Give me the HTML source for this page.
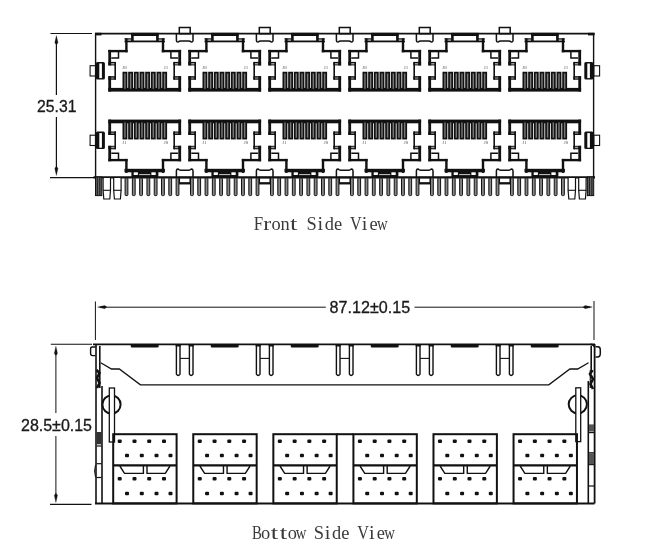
<!DOCTYPE html>
<html><head><meta charset="utf-8"><style>
html,body{margin:0;padding:0;background:#fff;width:650px;height:556px;overflow:hidden}
svg{display:block;will-change:transform}
</style></head><body>
<svg width="650" height="556" viewBox="0 0 650 556"><line x1="50.50" y1="33.50" x2="92.00" y2="33.50" stroke="#111" stroke-width="1.1" />
<line x1="50.00" y1="177.60" x2="95.00" y2="177.60" stroke="#111" stroke-width="1.1" />
<line x1="56.40" y1="40.00" x2="56.40" y2="95.00" stroke="#111" stroke-width="1.2" />
<line x1="56.40" y1="117.00" x2="56.40" y2="172.00" stroke="#111" stroke-width="1.2" />
<path d="M56.40,35.60 L58.00,42.80 L56.40,44.80 L54.80,42.80 Z" fill="#111" stroke="#111" stroke-width="0.3"/>
<path d="M56.40,175.50 L54.80,168.30 L56.40,166.30 L58.00,168.30 Z" fill="#111" stroke="#111" stroke-width="0.3"/>
<text x="37.0" y="111.6" font-family="Liberation Sans" font-size="15.6" fill="#1a1a1a" stroke="#1a1a1a" stroke-width="0.3" textLength="39.4" lengthAdjust="spacingAndGlyphs">25.31</text>
<g><rect x="108.30" y="87.9" width="72.8" height="3.7" fill="#111"/><rect x="108.30" y="76.20" width="2.80" height="15.40" fill="#111"/><rect x="178.30" y="76.20" width="2.80" height="15.40" fill="#111"/><rect x="108.30" y="76.20" width="7.70" height="3.50" fill="#111"/><rect x="173.40" y="76.20" width="7.70" height="3.50" fill="#111"/><rect x="111.10" y="77.50" width="3.30" height="1.10" fill="#9a9a9a"/><rect x="175.00" y="77.50" width="3.30" height="1.10" fill="#9a9a9a"/><rect x="114.40" y="62.00" width="1.60" height="17.70" fill="#111"/><rect x="173.40" y="62.00" width="1.60" height="17.70" fill="#111"/><rect x="108.30" y="61.90" width="7.70" height="3.50" fill="#111"/><rect x="173.40" y="61.90" width="7.70" height="3.50" fill="#111"/><rect x="111.10" y="63.00" width="3.30" height="1.50" fill="#9a9a9a"/><rect x="175.00" y="63.00" width="3.30" height="1.50" fill="#9a9a9a"/><rect x="108.30" y="49.90" width="2.80" height="15.50" fill="#111"/><rect x="178.30" y="49.90" width="2.80" height="15.50" fill="#111"/><rect x="108.30" y="49.90" width="19.30" height="2.40" fill="#111"/><rect x="161.80" y="49.90" width="19.30" height="2.40" fill="#111"/><rect x="125.20" y="38.30" width="2.40" height="14.00" fill="#111"/><rect x="161.80" y="38.30" width="2.40" height="14.00" fill="#111"/><path d="M111.30,57.9 H118.50 V52" stroke="#111" stroke-width="1.5" fill="none"/><path d="M178.10,57.9 H170.90 V52" stroke="#111" stroke-width="1.5" fill="none"/><rect x="131.10" y="32.8" width="27.6" height="3.2" fill="#111"/><path d="M132.40,34 V41 M157.40,34 V41" stroke="#111" stroke-width="2.6"/><rect x="124.50" y="40.5" width="40.4" height="1.8" fill="#111"/><rect x="124.50" y="38.3" width="7" height="1.3" fill="#111"/><rect x="157.90" y="38.3" width="7" height="1.3" fill="#111"/><rect x="123.35" y="72.6" width="3.17" height="17" fill="#777" stroke="#111" stroke-width="1.7"/><rect x="129.02" y="72.6" width="3.17" height="17" fill="#777" stroke="#111" stroke-width="1.7"/><rect x="134.70" y="72.6" width="3.17" height="17" fill="#777" stroke="#111" stroke-width="1.7"/><rect x="140.38" y="72.6" width="3.17" height="17" fill="#777" stroke="#111" stroke-width="1.7"/><rect x="146.05" y="72.6" width="3.17" height="17" fill="#777" stroke="#111" stroke-width="1.7"/><rect x="151.72" y="72.6" width="3.17" height="17" fill="#777" stroke="#111" stroke-width="1.7"/><rect x="157.40" y="72.6" width="3.17" height="17" fill="#777" stroke="#111" stroke-width="1.7"/><rect x="163.07" y="72.6" width="3.17" height="17" fill="#777" stroke="#111" stroke-width="1.7"/><rect x="188.30" y="87.9" width="72.8" height="3.7" fill="#111"/><rect x="188.30" y="76.20" width="2.80" height="15.40" fill="#111"/><rect x="258.30" y="76.20" width="2.80" height="15.40" fill="#111"/><rect x="188.30" y="76.20" width="7.70" height="3.50" fill="#111"/><rect x="253.40" y="76.20" width="7.70" height="3.50" fill="#111"/><rect x="191.10" y="77.50" width="3.30" height="1.10" fill="#9a9a9a"/><rect x="255.00" y="77.50" width="3.30" height="1.10" fill="#9a9a9a"/><rect x="194.40" y="62.00" width="1.60" height="17.70" fill="#111"/><rect x="253.40" y="62.00" width="1.60" height="17.70" fill="#111"/><rect x="188.30" y="61.90" width="7.70" height="3.50" fill="#111"/><rect x="253.40" y="61.90" width="7.70" height="3.50" fill="#111"/><rect x="191.10" y="63.00" width="3.30" height="1.50" fill="#9a9a9a"/><rect x="255.00" y="63.00" width="3.30" height="1.50" fill="#9a9a9a"/><rect x="188.30" y="49.90" width="2.80" height="15.50" fill="#111"/><rect x="258.30" y="49.90" width="2.80" height="15.50" fill="#111"/><rect x="188.30" y="49.90" width="19.30" height="2.40" fill="#111"/><rect x="241.80" y="49.90" width="19.30" height="2.40" fill="#111"/><rect x="205.20" y="38.30" width="2.40" height="14.00" fill="#111"/><rect x="241.80" y="38.30" width="2.40" height="14.00" fill="#111"/><path d="M191.30,57.9 H198.50 V52" stroke="#111" stroke-width="1.5" fill="none"/><path d="M258.10,57.9 H250.90 V52" stroke="#111" stroke-width="1.5" fill="none"/><rect x="211.10" y="32.8" width="27.6" height="3.2" fill="#111"/><path d="M212.40,34 V41 M237.40,34 V41" stroke="#111" stroke-width="2.6"/><rect x="204.50" y="40.5" width="40.4" height="1.8" fill="#111"/><rect x="204.50" y="38.3" width="7" height="1.3" fill="#111"/><rect x="237.90" y="38.3" width="7" height="1.3" fill="#111"/><rect x="203.35" y="72.6" width="3.17" height="17" fill="#777" stroke="#111" stroke-width="1.7"/><rect x="209.03" y="72.6" width="3.17" height="17" fill="#777" stroke="#111" stroke-width="1.7"/><rect x="214.70" y="72.6" width="3.17" height="17" fill="#777" stroke="#111" stroke-width="1.7"/><rect x="220.38" y="72.6" width="3.17" height="17" fill="#777" stroke="#111" stroke-width="1.7"/><rect x="226.05" y="72.6" width="3.17" height="17" fill="#777" stroke="#111" stroke-width="1.7"/><rect x="231.72" y="72.6" width="3.17" height="17" fill="#777" stroke="#111" stroke-width="1.7"/><rect x="237.40" y="72.6" width="3.17" height="17" fill="#777" stroke="#111" stroke-width="1.7"/><rect x="243.07" y="72.6" width="3.17" height="17" fill="#777" stroke="#111" stroke-width="1.7"/><rect x="268.30" y="87.9" width="72.8" height="3.7" fill="#111"/><rect x="268.30" y="76.20" width="2.80" height="15.40" fill="#111"/><rect x="338.30" y="76.20" width="2.80" height="15.40" fill="#111"/><rect x="268.30" y="76.20" width="7.70" height="3.50" fill="#111"/><rect x="333.40" y="76.20" width="7.70" height="3.50" fill="#111"/><rect x="271.10" y="77.50" width="3.30" height="1.10" fill="#9a9a9a"/><rect x="335.00" y="77.50" width="3.30" height="1.10" fill="#9a9a9a"/><rect x="274.40" y="62.00" width="1.60" height="17.70" fill="#111"/><rect x="333.40" y="62.00" width="1.60" height="17.70" fill="#111"/><rect x="268.30" y="61.90" width="7.70" height="3.50" fill="#111"/><rect x="333.40" y="61.90" width="7.70" height="3.50" fill="#111"/><rect x="271.10" y="63.00" width="3.30" height="1.50" fill="#9a9a9a"/><rect x="335.00" y="63.00" width="3.30" height="1.50" fill="#9a9a9a"/><rect x="268.30" y="49.90" width="2.80" height="15.50" fill="#111"/><rect x="338.30" y="49.90" width="2.80" height="15.50" fill="#111"/><rect x="268.30" y="49.90" width="19.30" height="2.40" fill="#111"/><rect x="321.80" y="49.90" width="19.30" height="2.40" fill="#111"/><rect x="285.20" y="38.30" width="2.40" height="14.00" fill="#111"/><rect x="321.80" y="38.30" width="2.40" height="14.00" fill="#111"/><path d="M271.30,57.9 H278.50 V52" stroke="#111" stroke-width="1.5" fill="none"/><path d="M338.10,57.9 H330.90 V52" stroke="#111" stroke-width="1.5" fill="none"/><rect x="291.10" y="32.8" width="27.6" height="3.2" fill="#111"/><path d="M292.40,34 V41 M317.40,34 V41" stroke="#111" stroke-width="2.6"/><rect x="284.50" y="40.5" width="40.4" height="1.8" fill="#111"/><rect x="284.50" y="38.3" width="7" height="1.3" fill="#111"/><rect x="317.90" y="38.3" width="7" height="1.3" fill="#111"/><rect x="283.35" y="72.6" width="3.17" height="17" fill="#777" stroke="#111" stroke-width="1.7"/><rect x="289.02" y="72.6" width="3.17" height="17" fill="#777" stroke="#111" stroke-width="1.7"/><rect x="294.70" y="72.6" width="3.17" height="17" fill="#777" stroke="#111" stroke-width="1.7"/><rect x="300.37" y="72.6" width="3.17" height="17" fill="#777" stroke="#111" stroke-width="1.7"/><rect x="306.05" y="72.6" width="3.17" height="17" fill="#777" stroke="#111" stroke-width="1.7"/><rect x="311.72" y="72.6" width="3.17" height="17" fill="#777" stroke="#111" stroke-width="1.7"/><rect x="317.40" y="72.6" width="3.17" height="17" fill="#777" stroke="#111" stroke-width="1.7"/><rect x="323.07" y="72.6" width="3.17" height="17" fill="#777" stroke="#111" stroke-width="1.7"/><rect x="348.30" y="87.9" width="72.8" height="3.7" fill="#111"/><rect x="348.30" y="76.20" width="2.80" height="15.40" fill="#111"/><rect x="418.30" y="76.20" width="2.80" height="15.40" fill="#111"/><rect x="348.30" y="76.20" width="7.70" height="3.50" fill="#111"/><rect x="413.40" y="76.20" width="7.70" height="3.50" fill="#111"/><rect x="351.10" y="77.50" width="3.30" height="1.10" fill="#9a9a9a"/><rect x="415.00" y="77.50" width="3.30" height="1.10" fill="#9a9a9a"/><rect x="354.40" y="62.00" width="1.60" height="17.70" fill="#111"/><rect x="413.40" y="62.00" width="1.60" height="17.70" fill="#111"/><rect x="348.30" y="61.90" width="7.70" height="3.50" fill="#111"/><rect x="413.40" y="61.90" width="7.70" height="3.50" fill="#111"/><rect x="351.10" y="63.00" width="3.30" height="1.50" fill="#9a9a9a"/><rect x="415.00" y="63.00" width="3.30" height="1.50" fill="#9a9a9a"/><rect x="348.30" y="49.90" width="2.80" height="15.50" fill="#111"/><rect x="418.30" y="49.90" width="2.80" height="15.50" fill="#111"/><rect x="348.30" y="49.90" width="19.30" height="2.40" fill="#111"/><rect x="401.80" y="49.90" width="19.30" height="2.40" fill="#111"/><rect x="365.20" y="38.30" width="2.40" height="14.00" fill="#111"/><rect x="401.80" y="38.30" width="2.40" height="14.00" fill="#111"/><path d="M351.30,57.9 H358.50 V52" stroke="#111" stroke-width="1.5" fill="none"/><path d="M418.10,57.9 H410.90 V52" stroke="#111" stroke-width="1.5" fill="none"/><rect x="371.10" y="32.8" width="27.6" height="3.2" fill="#111"/><path d="M372.40,34 V41 M397.40,34 V41" stroke="#111" stroke-width="2.6"/><rect x="364.50" y="40.5" width="40.4" height="1.8" fill="#111"/><rect x="364.50" y="38.3" width="7" height="1.3" fill="#111"/><rect x="397.90" y="38.3" width="7" height="1.3" fill="#111"/><rect x="363.35" y="72.6" width="3.17" height="17" fill="#777" stroke="#111" stroke-width="1.7"/><rect x="369.02" y="72.6" width="3.17" height="17" fill="#777" stroke="#111" stroke-width="1.7"/><rect x="374.70" y="72.6" width="3.17" height="17" fill="#777" stroke="#111" stroke-width="1.7"/><rect x="380.37" y="72.6" width="3.17" height="17" fill="#777" stroke="#111" stroke-width="1.7"/><rect x="386.05" y="72.6" width="3.17" height="17" fill="#777" stroke="#111" stroke-width="1.7"/><rect x="391.72" y="72.6" width="3.17" height="17" fill="#777" stroke="#111" stroke-width="1.7"/><rect x="397.40" y="72.6" width="3.17" height="17" fill="#777" stroke="#111" stroke-width="1.7"/><rect x="403.07" y="72.6" width="3.17" height="17" fill="#777" stroke="#111" stroke-width="1.7"/><rect x="428.30" y="87.9" width="72.8" height="3.7" fill="#111"/><rect x="428.30" y="76.20" width="2.80" height="15.40" fill="#111"/><rect x="498.30" y="76.20" width="2.80" height="15.40" fill="#111"/><rect x="428.30" y="76.20" width="7.70" height="3.50" fill="#111"/><rect x="493.40" y="76.20" width="7.70" height="3.50" fill="#111"/><rect x="431.10" y="77.50" width="3.30" height="1.10" fill="#9a9a9a"/><rect x="495.00" y="77.50" width="3.30" height="1.10" fill="#9a9a9a"/><rect x="434.40" y="62.00" width="1.60" height="17.70" fill="#111"/><rect x="493.40" y="62.00" width="1.60" height="17.70" fill="#111"/><rect x="428.30" y="61.90" width="7.70" height="3.50" fill="#111"/><rect x="493.40" y="61.90" width="7.70" height="3.50" fill="#111"/><rect x="431.10" y="63.00" width="3.30" height="1.50" fill="#9a9a9a"/><rect x="495.00" y="63.00" width="3.30" height="1.50" fill="#9a9a9a"/><rect x="428.30" y="49.90" width="2.80" height="15.50" fill="#111"/><rect x="498.30" y="49.90" width="2.80" height="15.50" fill="#111"/><rect x="428.30" y="49.90" width="19.30" height="2.40" fill="#111"/><rect x="481.80" y="49.90" width="19.30" height="2.40" fill="#111"/><rect x="445.20" y="38.30" width="2.40" height="14.00" fill="#111"/><rect x="481.80" y="38.30" width="2.40" height="14.00" fill="#111"/><path d="M431.30,57.9 H438.50 V52" stroke="#111" stroke-width="1.5" fill="none"/><path d="M498.10,57.9 H490.90 V52" stroke="#111" stroke-width="1.5" fill="none"/><rect x="451.10" y="32.8" width="27.6" height="3.2" fill="#111"/><path d="M452.40,34 V41 M477.40,34 V41" stroke="#111" stroke-width="2.6"/><rect x="444.50" y="40.5" width="40.4" height="1.8" fill="#111"/><rect x="444.50" y="38.3" width="7" height="1.3" fill="#111"/><rect x="477.90" y="38.3" width="7" height="1.3" fill="#111"/><rect x="443.35" y="72.6" width="3.17" height="17" fill="#777" stroke="#111" stroke-width="1.7"/><rect x="449.02" y="72.6" width="3.17" height="17" fill="#777" stroke="#111" stroke-width="1.7"/><rect x="454.70" y="72.6" width="3.17" height="17" fill="#777" stroke="#111" stroke-width="1.7"/><rect x="460.37" y="72.6" width="3.17" height="17" fill="#777" stroke="#111" stroke-width="1.7"/><rect x="466.05" y="72.6" width="3.17" height="17" fill="#777" stroke="#111" stroke-width="1.7"/><rect x="471.72" y="72.6" width="3.17" height="17" fill="#777" stroke="#111" stroke-width="1.7"/><rect x="477.40" y="72.6" width="3.17" height="17" fill="#777" stroke="#111" stroke-width="1.7"/><rect x="483.07" y="72.6" width="3.17" height="17" fill="#777" stroke="#111" stroke-width="1.7"/><rect x="508.30" y="87.9" width="72.8" height="3.7" fill="#111"/><rect x="508.30" y="76.20" width="2.80" height="15.40" fill="#111"/><rect x="578.30" y="76.20" width="2.80" height="15.40" fill="#111"/><rect x="508.30" y="76.20" width="7.70" height="3.50" fill="#111"/><rect x="573.40" y="76.20" width="7.70" height="3.50" fill="#111"/><rect x="511.10" y="77.50" width="3.30" height="1.10" fill="#9a9a9a"/><rect x="575.00" y="77.50" width="3.30" height="1.10" fill="#9a9a9a"/><rect x="514.40" y="62.00" width="1.60" height="17.70" fill="#111"/><rect x="573.40" y="62.00" width="1.60" height="17.70" fill="#111"/><rect x="508.30" y="61.90" width="7.70" height="3.50" fill="#111"/><rect x="573.40" y="61.90" width="7.70" height="3.50" fill="#111"/><rect x="511.10" y="63.00" width="3.30" height="1.50" fill="#9a9a9a"/><rect x="575.00" y="63.00" width="3.30" height="1.50" fill="#9a9a9a"/><rect x="508.30" y="49.90" width="2.80" height="15.50" fill="#111"/><rect x="578.30" y="49.90" width="2.80" height="15.50" fill="#111"/><rect x="508.30" y="49.90" width="19.30" height="2.40" fill="#111"/><rect x="561.80" y="49.90" width="19.30" height="2.40" fill="#111"/><rect x="525.20" y="38.30" width="2.40" height="14.00" fill="#111"/><rect x="561.80" y="38.30" width="2.40" height="14.00" fill="#111"/><path d="M511.30,57.9 H518.50 V52" stroke="#111" stroke-width="1.5" fill="none"/><path d="M578.10,57.9 H570.90 V52" stroke="#111" stroke-width="1.5" fill="none"/><rect x="531.10" y="32.8" width="27.6" height="3.2" fill="#111"/><path d="M532.40,34 V41 M557.40,34 V41" stroke="#111" stroke-width="2.6"/><rect x="524.50" y="40.5" width="40.4" height="1.8" fill="#111"/><rect x="524.50" y="38.3" width="7" height="1.3" fill="#111"/><rect x="557.90" y="38.3" width="7" height="1.3" fill="#111"/><rect x="523.35" y="72.6" width="3.17" height="17" fill="#777" stroke="#111" stroke-width="1.7"/><rect x="529.02" y="72.6" width="3.17" height="17" fill="#777" stroke="#111" stroke-width="1.7"/><rect x="534.70" y="72.6" width="3.17" height="17" fill="#777" stroke="#111" stroke-width="1.7"/><rect x="540.38" y="72.6" width="3.17" height="17" fill="#777" stroke="#111" stroke-width="1.7"/><rect x="546.05" y="72.6" width="3.17" height="17" fill="#777" stroke="#111" stroke-width="1.7"/><rect x="551.73" y="72.6" width="3.17" height="17" fill="#777" stroke="#111" stroke-width="1.7"/><rect x="557.40" y="72.6" width="3.17" height="17" fill="#777" stroke="#111" stroke-width="1.7"/><rect x="563.08" y="72.6" width="3.17" height="17" fill="#777" stroke="#111" stroke-width="1.7"/><rect x="179.30" y="27.5" width="10.9" height="6.2" fill="none" stroke="#111" stroke-width="1.5"/><path d="M176.40,34 V40.5 Q176.40,42.1 178.10,42.1 Q179.20,40.9 180.70,40.9 H188.70 Q190.20,40.9 191.30,42.1 Q193.00,42.1 193.00,40.5 V34" stroke="#111" stroke-width="1.5" fill="none"/><rect x="259.30" y="27.5" width="10.9" height="6.2" fill="none" stroke="#111" stroke-width="1.5"/><path d="M256.40,34 V40.5 Q256.40,42.1 258.10,42.1 Q259.20,40.9 260.70,40.9 H268.70 Q270.20,40.9 271.30,42.1 Q273.00,42.1 273.00,40.5 V34" stroke="#111" stroke-width="1.5" fill="none"/><rect x="339.30" y="27.5" width="10.9" height="6.2" fill="none" stroke="#111" stroke-width="1.5"/><path d="M336.40,34 V40.5 Q336.40,42.1 338.10,42.1 Q339.20,40.9 340.70,40.9 H348.70 Q350.20,40.9 351.30,42.1 Q353.00,42.1 353.00,40.5 V34" stroke="#111" stroke-width="1.5" fill="none"/><rect x="419.30" y="27.5" width="10.9" height="6.2" fill="none" stroke="#111" stroke-width="1.5"/><path d="M416.40,34 V40.5 Q416.40,42.1 418.10,42.1 Q419.20,40.9 420.70,40.9 H428.70 Q430.20,40.9 431.30,42.1 Q433.00,42.1 433.00,40.5 V34" stroke="#111" stroke-width="1.5" fill="none"/><rect x="499.30" y="27.5" width="10.9" height="6.2" fill="none" stroke="#111" stroke-width="1.5"/><path d="M496.40,34 V40.5 Q496.40,42.1 498.10,42.1 Q499.20,40.9 500.70,40.9 H508.70 Q510.20,40.9 511.30,42.1 Q513.00,42.1 513.00,40.5 V34" stroke="#111" stroke-width="1.5" fill="none"/><rect x="90.10" y="65.7" width="5.80" height="10.3" fill="none" stroke="#111" stroke-width="1.1"/><rect x="95.90" y="62.1" width="9" height="17.5" rx="1.5" fill="#111"/><rect x="99.30" y="63.5" width="2.6" height="14.6" fill="#fff"/><rect x="593.80" y="65.7" width="5.80" height="10.3" fill="none" stroke="#111" stroke-width="1.1"/><rect x="584.30" y="62.1" width="9" height="17.5" rx="1.5" fill="#111"/><rect x="587.30" y="63.5" width="2.6" height="14.6" fill="#fff"/></g>
<g transform="matrix(1,0,0,-1,0,211.2)"><rect x="108.30" y="87.9" width="72.8" height="3.7" fill="#111"/><rect x="108.30" y="76.20" width="2.80" height="15.40" fill="#111"/><rect x="178.30" y="76.20" width="2.80" height="15.40" fill="#111"/><rect x="108.30" y="76.20" width="7.70" height="3.50" fill="#111"/><rect x="173.40" y="76.20" width="7.70" height="3.50" fill="#111"/><rect x="111.10" y="77.50" width="3.30" height="1.10" fill="#9a9a9a"/><rect x="175.00" y="77.50" width="3.30" height="1.10" fill="#9a9a9a"/><rect x="114.40" y="62.00" width="1.60" height="17.70" fill="#111"/><rect x="173.40" y="62.00" width="1.60" height="17.70" fill="#111"/><rect x="108.30" y="61.90" width="7.70" height="3.50" fill="#111"/><rect x="173.40" y="61.90" width="7.70" height="3.50" fill="#111"/><rect x="111.10" y="63.00" width="3.30" height="1.50" fill="#9a9a9a"/><rect x="175.00" y="63.00" width="3.30" height="1.50" fill="#9a9a9a"/><rect x="108.30" y="49.90" width="2.80" height="15.50" fill="#111"/><rect x="178.30" y="49.90" width="2.80" height="15.50" fill="#111"/><rect x="108.30" y="49.90" width="19.30" height="2.40" fill="#111"/><rect x="161.80" y="49.90" width="19.30" height="2.40" fill="#111"/><rect x="125.20" y="38.30" width="2.40" height="14.00" fill="#111"/><rect x="161.80" y="38.30" width="2.40" height="14.00" fill="#111"/><path d="M111.30,57.9 H118.50 V52" stroke="#111" stroke-width="1.5" fill="none"/><path d="M178.10,57.9 H170.90 V52" stroke="#111" stroke-width="1.5" fill="none"/><rect x="131.40" y="33.9" width="27" height="8.2" fill="#111"/><rect x="133.70" y="36.2" width="4.2" height="4.6" fill="#fff"/><rect x="151.40" y="36.2" width="4.3" height="4.6" fill="#fff"/><path d="M139.20,36.6 H150.20" stroke="#fff" stroke-width="0.8"/><rect x="124.50" y="38.9" width="40.4" height="3.5" fill="#111"/><rect x="123.35" y="72.6" width="3.17" height="17" fill="#777" stroke="#111" stroke-width="1.7"/><rect x="129.02" y="72.6" width="3.17" height="17" fill="#777" stroke="#111" stroke-width="1.7"/><rect x="134.70" y="72.6" width="3.17" height="17" fill="#777" stroke="#111" stroke-width="1.7"/><rect x="140.38" y="72.6" width="3.17" height="17" fill="#777" stroke="#111" stroke-width="1.7"/><rect x="146.05" y="72.6" width="3.17" height="17" fill="#777" stroke="#111" stroke-width="1.7"/><rect x="151.72" y="72.6" width="3.17" height="17" fill="#777" stroke="#111" stroke-width="1.7"/><rect x="157.40" y="72.6" width="3.17" height="17" fill="#777" stroke="#111" stroke-width="1.7"/><rect x="163.07" y="72.6" width="3.17" height="17" fill="#777" stroke="#111" stroke-width="1.7"/><rect x="188.30" y="87.9" width="72.8" height="3.7" fill="#111"/><rect x="188.30" y="76.20" width="2.80" height="15.40" fill="#111"/><rect x="258.30" y="76.20" width="2.80" height="15.40" fill="#111"/><rect x="188.30" y="76.20" width="7.70" height="3.50" fill="#111"/><rect x="253.40" y="76.20" width="7.70" height="3.50" fill="#111"/><rect x="191.10" y="77.50" width="3.30" height="1.10" fill="#9a9a9a"/><rect x="255.00" y="77.50" width="3.30" height="1.10" fill="#9a9a9a"/><rect x="194.40" y="62.00" width="1.60" height="17.70" fill="#111"/><rect x="253.40" y="62.00" width="1.60" height="17.70" fill="#111"/><rect x="188.30" y="61.90" width="7.70" height="3.50" fill="#111"/><rect x="253.40" y="61.90" width="7.70" height="3.50" fill="#111"/><rect x="191.10" y="63.00" width="3.30" height="1.50" fill="#9a9a9a"/><rect x="255.00" y="63.00" width="3.30" height="1.50" fill="#9a9a9a"/><rect x="188.30" y="49.90" width="2.80" height="15.50" fill="#111"/><rect x="258.30" y="49.90" width="2.80" height="15.50" fill="#111"/><rect x="188.30" y="49.90" width="19.30" height="2.40" fill="#111"/><rect x="241.80" y="49.90" width="19.30" height="2.40" fill="#111"/><rect x="205.20" y="38.30" width="2.40" height="14.00" fill="#111"/><rect x="241.80" y="38.30" width="2.40" height="14.00" fill="#111"/><path d="M191.30,57.9 H198.50 V52" stroke="#111" stroke-width="1.5" fill="none"/><path d="M258.10,57.9 H250.90 V52" stroke="#111" stroke-width="1.5" fill="none"/><rect x="211.40" y="33.9" width="27" height="8.2" fill="#111"/><rect x="213.70" y="36.2" width="4.2" height="4.6" fill="#fff"/><rect x="231.40" y="36.2" width="4.3" height="4.6" fill="#fff"/><path d="M219.20,36.6 H230.20" stroke="#fff" stroke-width="0.8"/><rect x="204.50" y="38.9" width="40.4" height="3.5" fill="#111"/><rect x="203.35" y="72.6" width="3.17" height="17" fill="#777" stroke="#111" stroke-width="1.7"/><rect x="209.03" y="72.6" width="3.17" height="17" fill="#777" stroke="#111" stroke-width="1.7"/><rect x="214.70" y="72.6" width="3.17" height="17" fill="#777" stroke="#111" stroke-width="1.7"/><rect x="220.38" y="72.6" width="3.17" height="17" fill="#777" stroke="#111" stroke-width="1.7"/><rect x="226.05" y="72.6" width="3.17" height="17" fill="#777" stroke="#111" stroke-width="1.7"/><rect x="231.72" y="72.6" width="3.17" height="17" fill="#777" stroke="#111" stroke-width="1.7"/><rect x="237.40" y="72.6" width="3.17" height="17" fill="#777" stroke="#111" stroke-width="1.7"/><rect x="243.07" y="72.6" width="3.17" height="17" fill="#777" stroke="#111" stroke-width="1.7"/><rect x="268.30" y="87.9" width="72.8" height="3.7" fill="#111"/><rect x="268.30" y="76.20" width="2.80" height="15.40" fill="#111"/><rect x="338.30" y="76.20" width="2.80" height="15.40" fill="#111"/><rect x="268.30" y="76.20" width="7.70" height="3.50" fill="#111"/><rect x="333.40" y="76.20" width="7.70" height="3.50" fill="#111"/><rect x="271.10" y="77.50" width="3.30" height="1.10" fill="#9a9a9a"/><rect x="335.00" y="77.50" width="3.30" height="1.10" fill="#9a9a9a"/><rect x="274.40" y="62.00" width="1.60" height="17.70" fill="#111"/><rect x="333.40" y="62.00" width="1.60" height="17.70" fill="#111"/><rect x="268.30" y="61.90" width="7.70" height="3.50" fill="#111"/><rect x="333.40" y="61.90" width="7.70" height="3.50" fill="#111"/><rect x="271.10" y="63.00" width="3.30" height="1.50" fill="#9a9a9a"/><rect x="335.00" y="63.00" width="3.30" height="1.50" fill="#9a9a9a"/><rect x="268.30" y="49.90" width="2.80" height="15.50" fill="#111"/><rect x="338.30" y="49.90" width="2.80" height="15.50" fill="#111"/><rect x="268.30" y="49.90" width="19.30" height="2.40" fill="#111"/><rect x="321.80" y="49.90" width="19.30" height="2.40" fill="#111"/><rect x="285.20" y="38.30" width="2.40" height="14.00" fill="#111"/><rect x="321.80" y="38.30" width="2.40" height="14.00" fill="#111"/><path d="M271.30,57.9 H278.50 V52" stroke="#111" stroke-width="1.5" fill="none"/><path d="M338.10,57.9 H330.90 V52" stroke="#111" stroke-width="1.5" fill="none"/><rect x="291.40" y="33.9" width="27" height="8.2" fill="#111"/><rect x="293.70" y="36.2" width="4.2" height="4.6" fill="#fff"/><rect x="311.40" y="36.2" width="4.3" height="4.6" fill="#fff"/><path d="M299.20,36.6 H310.20" stroke="#fff" stroke-width="0.8"/><rect x="284.50" y="38.9" width="40.4" height="3.5" fill="#111"/><rect x="283.35" y="72.6" width="3.17" height="17" fill="#777" stroke="#111" stroke-width="1.7"/><rect x="289.02" y="72.6" width="3.17" height="17" fill="#777" stroke="#111" stroke-width="1.7"/><rect x="294.70" y="72.6" width="3.17" height="17" fill="#777" stroke="#111" stroke-width="1.7"/><rect x="300.37" y="72.6" width="3.17" height="17" fill="#777" stroke="#111" stroke-width="1.7"/><rect x="306.05" y="72.6" width="3.17" height="17" fill="#777" stroke="#111" stroke-width="1.7"/><rect x="311.72" y="72.6" width="3.17" height="17" fill="#777" stroke="#111" stroke-width="1.7"/><rect x="317.40" y="72.6" width="3.17" height="17" fill="#777" stroke="#111" stroke-width="1.7"/><rect x="323.07" y="72.6" width="3.17" height="17" fill="#777" stroke="#111" stroke-width="1.7"/><rect x="348.30" y="87.9" width="72.8" height="3.7" fill="#111"/><rect x="348.30" y="76.20" width="2.80" height="15.40" fill="#111"/><rect x="418.30" y="76.20" width="2.80" height="15.40" fill="#111"/><rect x="348.30" y="76.20" width="7.70" height="3.50" fill="#111"/><rect x="413.40" y="76.20" width="7.70" height="3.50" fill="#111"/><rect x="351.10" y="77.50" width="3.30" height="1.10" fill="#9a9a9a"/><rect x="415.00" y="77.50" width="3.30" height="1.10" fill="#9a9a9a"/><rect x="354.40" y="62.00" width="1.60" height="17.70" fill="#111"/><rect x="413.40" y="62.00" width="1.60" height="17.70" fill="#111"/><rect x="348.30" y="61.90" width="7.70" height="3.50" fill="#111"/><rect x="413.40" y="61.90" width="7.70" height="3.50" fill="#111"/><rect x="351.10" y="63.00" width="3.30" height="1.50" fill="#9a9a9a"/><rect x="415.00" y="63.00" width="3.30" height="1.50" fill="#9a9a9a"/><rect x="348.30" y="49.90" width="2.80" height="15.50" fill="#111"/><rect x="418.30" y="49.90" width="2.80" height="15.50" fill="#111"/><rect x="348.30" y="49.90" width="19.30" height="2.40" fill="#111"/><rect x="401.80" y="49.90" width="19.30" height="2.40" fill="#111"/><rect x="365.20" y="38.30" width="2.40" height="14.00" fill="#111"/><rect x="401.80" y="38.30" width="2.40" height="14.00" fill="#111"/><path d="M351.30,57.9 H358.50 V52" stroke="#111" stroke-width="1.5" fill="none"/><path d="M418.10,57.9 H410.90 V52" stroke="#111" stroke-width="1.5" fill="none"/><rect x="371.40" y="33.9" width="27" height="8.2" fill="#111"/><rect x="373.70" y="36.2" width="4.2" height="4.6" fill="#fff"/><rect x="391.40" y="36.2" width="4.3" height="4.6" fill="#fff"/><path d="M379.20,36.6 H390.20" stroke="#fff" stroke-width="0.8"/><rect x="364.50" y="38.9" width="40.4" height="3.5" fill="#111"/><rect x="363.35" y="72.6" width="3.17" height="17" fill="#777" stroke="#111" stroke-width="1.7"/><rect x="369.02" y="72.6" width="3.17" height="17" fill="#777" stroke="#111" stroke-width="1.7"/><rect x="374.70" y="72.6" width="3.17" height="17" fill="#777" stroke="#111" stroke-width="1.7"/><rect x="380.37" y="72.6" width="3.17" height="17" fill="#777" stroke="#111" stroke-width="1.7"/><rect x="386.05" y="72.6" width="3.17" height="17" fill="#777" stroke="#111" stroke-width="1.7"/><rect x="391.72" y="72.6" width="3.17" height="17" fill="#777" stroke="#111" stroke-width="1.7"/><rect x="397.40" y="72.6" width="3.17" height="17" fill="#777" stroke="#111" stroke-width="1.7"/><rect x="403.07" y="72.6" width="3.17" height="17" fill="#777" stroke="#111" stroke-width="1.7"/><rect x="428.30" y="87.9" width="72.8" height="3.7" fill="#111"/><rect x="428.30" y="76.20" width="2.80" height="15.40" fill="#111"/><rect x="498.30" y="76.20" width="2.80" height="15.40" fill="#111"/><rect x="428.30" y="76.20" width="7.70" height="3.50" fill="#111"/><rect x="493.40" y="76.20" width="7.70" height="3.50" fill="#111"/><rect x="431.10" y="77.50" width="3.30" height="1.10" fill="#9a9a9a"/><rect x="495.00" y="77.50" width="3.30" height="1.10" fill="#9a9a9a"/><rect x="434.40" y="62.00" width="1.60" height="17.70" fill="#111"/><rect x="493.40" y="62.00" width="1.60" height="17.70" fill="#111"/><rect x="428.30" y="61.90" width="7.70" height="3.50" fill="#111"/><rect x="493.40" y="61.90" width="7.70" height="3.50" fill="#111"/><rect x="431.10" y="63.00" width="3.30" height="1.50" fill="#9a9a9a"/><rect x="495.00" y="63.00" width="3.30" height="1.50" fill="#9a9a9a"/><rect x="428.30" y="49.90" width="2.80" height="15.50" fill="#111"/><rect x="498.30" y="49.90" width="2.80" height="15.50" fill="#111"/><rect x="428.30" y="49.90" width="19.30" height="2.40" fill="#111"/><rect x="481.80" y="49.90" width="19.30" height="2.40" fill="#111"/><rect x="445.20" y="38.30" width="2.40" height="14.00" fill="#111"/><rect x="481.80" y="38.30" width="2.40" height="14.00" fill="#111"/><path d="M431.30,57.9 H438.50 V52" stroke="#111" stroke-width="1.5" fill="none"/><path d="M498.10,57.9 H490.90 V52" stroke="#111" stroke-width="1.5" fill="none"/><rect x="451.40" y="33.9" width="27" height="8.2" fill="#111"/><rect x="453.70" y="36.2" width="4.2" height="4.6" fill="#fff"/><rect x="471.40" y="36.2" width="4.3" height="4.6" fill="#fff"/><path d="M459.20,36.6 H470.20" stroke="#fff" stroke-width="0.8"/><rect x="444.50" y="38.9" width="40.4" height="3.5" fill="#111"/><rect x="443.35" y="72.6" width="3.17" height="17" fill="#777" stroke="#111" stroke-width="1.7"/><rect x="449.02" y="72.6" width="3.17" height="17" fill="#777" stroke="#111" stroke-width="1.7"/><rect x="454.70" y="72.6" width="3.17" height="17" fill="#777" stroke="#111" stroke-width="1.7"/><rect x="460.37" y="72.6" width="3.17" height="17" fill="#777" stroke="#111" stroke-width="1.7"/><rect x="466.05" y="72.6" width="3.17" height="17" fill="#777" stroke="#111" stroke-width="1.7"/><rect x="471.72" y="72.6" width="3.17" height="17" fill="#777" stroke="#111" stroke-width="1.7"/><rect x="477.40" y="72.6" width="3.17" height="17" fill="#777" stroke="#111" stroke-width="1.7"/><rect x="483.07" y="72.6" width="3.17" height="17" fill="#777" stroke="#111" stroke-width="1.7"/><rect x="508.30" y="87.9" width="72.8" height="3.7" fill="#111"/><rect x="508.30" y="76.20" width="2.80" height="15.40" fill="#111"/><rect x="578.30" y="76.20" width="2.80" height="15.40" fill="#111"/><rect x="508.30" y="76.20" width="7.70" height="3.50" fill="#111"/><rect x="573.40" y="76.20" width="7.70" height="3.50" fill="#111"/><rect x="511.10" y="77.50" width="3.30" height="1.10" fill="#9a9a9a"/><rect x="575.00" y="77.50" width="3.30" height="1.10" fill="#9a9a9a"/><rect x="514.40" y="62.00" width="1.60" height="17.70" fill="#111"/><rect x="573.40" y="62.00" width="1.60" height="17.70" fill="#111"/><rect x="508.30" y="61.90" width="7.70" height="3.50" fill="#111"/><rect x="573.40" y="61.90" width="7.70" height="3.50" fill="#111"/><rect x="511.10" y="63.00" width="3.30" height="1.50" fill="#9a9a9a"/><rect x="575.00" y="63.00" width="3.30" height="1.50" fill="#9a9a9a"/><rect x="508.30" y="49.90" width="2.80" height="15.50" fill="#111"/><rect x="578.30" y="49.90" width="2.80" height="15.50" fill="#111"/><rect x="508.30" y="49.90" width="19.30" height="2.40" fill="#111"/><rect x="561.80" y="49.90" width="19.30" height="2.40" fill="#111"/><rect x="525.20" y="38.30" width="2.40" height="14.00" fill="#111"/><rect x="561.80" y="38.30" width="2.40" height="14.00" fill="#111"/><path d="M511.30,57.9 H518.50 V52" stroke="#111" stroke-width="1.5" fill="none"/><path d="M578.10,57.9 H570.90 V52" stroke="#111" stroke-width="1.5" fill="none"/><rect x="531.40" y="33.9" width="27" height="8.2" fill="#111"/><rect x="533.70" y="36.2" width="4.2" height="4.6" fill="#fff"/><rect x="551.40" y="36.2" width="4.3" height="4.6" fill="#fff"/><path d="M539.20,36.6 H550.20" stroke="#fff" stroke-width="0.8"/><rect x="524.50" y="38.9" width="40.4" height="3.5" fill="#111"/><rect x="523.35" y="72.6" width="3.17" height="17" fill="#777" stroke="#111" stroke-width="1.7"/><rect x="529.02" y="72.6" width="3.17" height="17" fill="#777" stroke="#111" stroke-width="1.7"/><rect x="534.70" y="72.6" width="3.17" height="17" fill="#777" stroke="#111" stroke-width="1.7"/><rect x="540.38" y="72.6" width="3.17" height="17" fill="#777" stroke="#111" stroke-width="1.7"/><rect x="546.05" y="72.6" width="3.17" height="17" fill="#777" stroke="#111" stroke-width="1.7"/><rect x="551.73" y="72.6" width="3.17" height="17" fill="#777" stroke="#111" stroke-width="1.7"/><rect x="557.40" y="72.6" width="3.17" height="17" fill="#777" stroke="#111" stroke-width="1.7"/><rect x="563.08" y="72.6" width="3.17" height="17" fill="#777" stroke="#111" stroke-width="1.7"/><rect x="179.30" y="27.5" width="10.9" height="6.2" fill="none" stroke="#111" stroke-width="1.5"/><path d="M176.40,34 V40.5 Q176.40,42.1 178.10,42.1 Q179.20,40.9 180.70,40.9 H188.70 Q190.20,40.9 191.30,42.1 Q193.00,42.1 193.00,40.5 V34" stroke="#111" stroke-width="1.5" fill="none"/><rect x="259.30" y="27.5" width="10.9" height="6.2" fill="none" stroke="#111" stroke-width="1.5"/><path d="M256.40,34 V40.5 Q256.40,42.1 258.10,42.1 Q259.20,40.9 260.70,40.9 H268.70 Q270.20,40.9 271.30,42.1 Q273.00,42.1 273.00,40.5 V34" stroke="#111" stroke-width="1.5" fill="none"/><rect x="339.30" y="27.5" width="10.9" height="6.2" fill="none" stroke="#111" stroke-width="1.5"/><path d="M336.40,34 V40.5 Q336.40,42.1 338.10,42.1 Q339.20,40.9 340.70,40.9 H348.70 Q350.20,40.9 351.30,42.1 Q353.00,42.1 353.00,40.5 V34" stroke="#111" stroke-width="1.5" fill="none"/><rect x="419.30" y="27.5" width="10.9" height="6.2" fill="none" stroke="#111" stroke-width="1.5"/><path d="M416.40,34 V40.5 Q416.40,42.1 418.10,42.1 Q419.20,40.9 420.70,40.9 H428.70 Q430.20,40.9 431.30,42.1 Q433.00,42.1 433.00,40.5 V34" stroke="#111" stroke-width="1.5" fill="none"/><rect x="499.30" y="27.5" width="10.9" height="6.2" fill="none" stroke="#111" stroke-width="1.5"/><path d="M496.40,34 V40.5 Q496.40,42.1 498.10,42.1 Q499.20,40.9 500.70,40.9 H508.70 Q510.20,40.9 511.30,42.1 Q513.00,42.1 513.00,40.5 V34" stroke="#111" stroke-width="1.5" fill="none"/><rect x="90.10" y="65.7" width="5.80" height="10.3" fill="none" stroke="#111" stroke-width="1.1"/><rect x="95.90" y="62.1" width="9" height="17.5" rx="1.5" fill="#111"/><rect x="99.30" y="63.5" width="2.6" height="14.6" fill="#fff"/><rect x="593.80" y="65.7" width="5.80" height="10.3" fill="none" stroke="#111" stroke-width="1.1"/><rect x="584.30" y="62.1" width="9" height="17.5" rx="1.5" fill="#111"/><rect x="587.30" y="63.5" width="2.6" height="14.6" fill="#fff"/></g>
<text x="122.30" y="69.4" font-family="Liberation Serif" font-size="5" fill="#666">J8</text>
<text x="163.70" y="69.4" font-family="Liberation Serif" font-size="5" fill="#666">J1</text>
<text x="122.30" y="144.2" font-family="Liberation Serif" font-size="5" fill="#666">J1</text>
<text x="163.70" y="144.2" font-family="Liberation Serif" font-size="5" fill="#666">J8</text>
<text x="202.30" y="69.4" font-family="Liberation Serif" font-size="5" fill="#666">J8</text>
<text x="243.70" y="69.4" font-family="Liberation Serif" font-size="5" fill="#666">J1</text>
<text x="202.30" y="144.2" font-family="Liberation Serif" font-size="5" fill="#666">J1</text>
<text x="243.70" y="144.2" font-family="Liberation Serif" font-size="5" fill="#666">J8</text>
<text x="282.30" y="69.4" font-family="Liberation Serif" font-size="5" fill="#666">J8</text>
<text x="323.70" y="69.4" font-family="Liberation Serif" font-size="5" fill="#666">J1</text>
<text x="282.30" y="144.2" font-family="Liberation Serif" font-size="5" fill="#666">J1</text>
<text x="323.70" y="144.2" font-family="Liberation Serif" font-size="5" fill="#666">J8</text>
<text x="362.30" y="69.4" font-family="Liberation Serif" font-size="5" fill="#666">J8</text>
<text x="403.70" y="69.4" font-family="Liberation Serif" font-size="5" fill="#666">J1</text>
<text x="362.30" y="144.2" font-family="Liberation Serif" font-size="5" fill="#666">J1</text>
<text x="403.70" y="144.2" font-family="Liberation Serif" font-size="5" fill="#666">J8</text>
<text x="442.30" y="69.4" font-family="Liberation Serif" font-size="5" fill="#666">J8</text>
<text x="483.70" y="69.4" font-family="Liberation Serif" font-size="5" fill="#666">J1</text>
<text x="442.30" y="144.2" font-family="Liberation Serif" font-size="5" fill="#666">J1</text>
<text x="483.70" y="144.2" font-family="Liberation Serif" font-size="5" fill="#666">J8</text>
<text x="522.30" y="69.4" font-family="Liberation Serif" font-size="5" fill="#666">J8</text>
<text x="563.70" y="69.4" font-family="Liberation Serif" font-size="5" fill="#666">J1</text>
<text x="522.30" y="144.2" font-family="Liberation Serif" font-size="5" fill="#666">J1</text>
<text x="563.70" y="144.2" font-family="Liberation Serif" font-size="5" fill="#666">J8</text>
<line x1="95.60" y1="33.00" x2="95.60" y2="177.50" stroke="#111" stroke-width="1.4" />
<line x1="593.60" y1="33.00" x2="593.60" y2="177.50" stroke="#111" stroke-width="1.4" />
<line x1="95.00" y1="33.60" x2="594.50" y2="33.60" stroke="#111" stroke-width="1.7" />
<rect x="95.00" y="32.80" width="6.50" height="2.60" fill="#111" stroke="none" stroke-width="0" />
<rect x="588.00" y="32.80" width="6.50" height="2.60" fill="#111" stroke="none" stroke-width="0" />
<line x1="93.50" y1="177.40" x2="595.00" y2="177.40" stroke="#111" stroke-width="2.4" />
<rect x="125.08" y="178" width="2.8" height="17.6" rx="0.8" fill="#888" stroke="#111" stroke-width="1.0"/>
<rect x="132.37" y="178" width="2.8" height="17.6" rx="0.8" fill="#888" stroke="#111" stroke-width="1.0"/>
<rect x="139.66" y="178" width="2.8" height="17.6" rx="0.8" fill="#888" stroke="#111" stroke-width="1.0"/>
<rect x="146.95" y="178" width="2.8" height="17.6" rx="0.8" fill="#888" stroke="#111" stroke-width="1.0"/>
<rect x="154.24" y="178" width="2.8" height="17.6" rx="0.8" fill="#888" stroke="#111" stroke-width="1.0"/>
<rect x="161.53" y="178" width="2.8" height="17.6" rx="0.8" fill="#888" stroke="#111" stroke-width="1.0"/>
<rect x="168.82" y="178" width="2.8" height="17.6" rx="0.8" fill="#888" stroke="#111" stroke-width="1.0"/>
<rect x="176.11" y="178" width="2.8" height="17.6" rx="0.8" fill="#888" stroke="#111" stroke-width="1.0"/>
<rect x="190.50" y="178" width="2.8" height="17.6" rx="0.8" fill="#888" stroke="#111" stroke-width="1.0"/>
<rect x="197.79" y="178" width="2.8" height="17.6" rx="0.8" fill="#888" stroke="#111" stroke-width="1.0"/>
<rect x="205.08" y="178" width="2.8" height="17.6" rx="0.8" fill="#888" stroke="#111" stroke-width="1.0"/>
<rect x="212.37" y="178" width="2.8" height="17.6" rx="0.8" fill="#888" stroke="#111" stroke-width="1.0"/>
<rect x="219.66" y="178" width="2.8" height="17.6" rx="0.8" fill="#888" stroke="#111" stroke-width="1.0"/>
<rect x="226.95" y="178" width="2.8" height="17.6" rx="0.8" fill="#888" stroke="#111" stroke-width="1.0"/>
<rect x="234.24" y="178" width="2.8" height="17.6" rx="0.8" fill="#888" stroke="#111" stroke-width="1.0"/>
<rect x="241.53" y="178" width="2.8" height="17.6" rx="0.8" fill="#888" stroke="#111" stroke-width="1.0"/>
<rect x="248.82" y="178" width="2.8" height="17.6" rx="0.8" fill="#888" stroke="#111" stroke-width="1.0"/>
<rect x="256.11" y="178" width="2.8" height="17.6" rx="0.8" fill="#888" stroke="#111" stroke-width="1.0"/>
<rect x="270.50" y="178" width="2.8" height="17.6" rx="0.8" fill="#888" stroke="#111" stroke-width="1.0"/>
<rect x="277.79" y="178" width="2.8" height="17.6" rx="0.8" fill="#888" stroke="#111" stroke-width="1.0"/>
<rect x="285.08" y="178" width="2.8" height="17.6" rx="0.8" fill="#888" stroke="#111" stroke-width="1.0"/>
<rect x="292.37" y="178" width="2.8" height="17.6" rx="0.8" fill="#888" stroke="#111" stroke-width="1.0"/>
<rect x="299.66" y="178" width="2.8" height="17.6" rx="0.8" fill="#888" stroke="#111" stroke-width="1.0"/>
<rect x="306.95" y="178" width="2.8" height="17.6" rx="0.8" fill="#888" stroke="#111" stroke-width="1.0"/>
<rect x="314.24" y="178" width="2.8" height="17.6" rx="0.8" fill="#888" stroke="#111" stroke-width="1.0"/>
<rect x="321.53" y="178" width="2.8" height="17.6" rx="0.8" fill="#888" stroke="#111" stroke-width="1.0"/>
<rect x="328.82" y="178" width="2.8" height="17.6" rx="0.8" fill="#888" stroke="#111" stroke-width="1.0"/>
<rect x="336.11" y="178" width="2.8" height="17.6" rx="0.8" fill="#888" stroke="#111" stroke-width="1.0"/>
<rect x="350.50" y="178" width="2.8" height="17.6" rx="0.8" fill="#888" stroke="#111" stroke-width="1.0"/>
<rect x="357.79" y="178" width="2.8" height="17.6" rx="0.8" fill="#888" stroke="#111" stroke-width="1.0"/>
<rect x="365.08" y="178" width="2.8" height="17.6" rx="0.8" fill="#888" stroke="#111" stroke-width="1.0"/>
<rect x="372.37" y="178" width="2.8" height="17.6" rx="0.8" fill="#888" stroke="#111" stroke-width="1.0"/>
<rect x="379.66" y="178" width="2.8" height="17.6" rx="0.8" fill="#888" stroke="#111" stroke-width="1.0"/>
<rect x="386.95" y="178" width="2.8" height="17.6" rx="0.8" fill="#888" stroke="#111" stroke-width="1.0"/>
<rect x="394.24" y="178" width="2.8" height="17.6" rx="0.8" fill="#888" stroke="#111" stroke-width="1.0"/>
<rect x="401.53" y="178" width="2.8" height="17.6" rx="0.8" fill="#888" stroke="#111" stroke-width="1.0"/>
<rect x="408.82" y="178" width="2.8" height="17.6" rx="0.8" fill="#888" stroke="#111" stroke-width="1.0"/>
<rect x="416.11" y="178" width="2.8" height="17.6" rx="0.8" fill="#888" stroke="#111" stroke-width="1.0"/>
<rect x="430.50" y="178" width="2.8" height="17.6" rx="0.8" fill="#888" stroke="#111" stroke-width="1.0"/>
<rect x="437.79" y="178" width="2.8" height="17.6" rx="0.8" fill="#888" stroke="#111" stroke-width="1.0"/>
<rect x="445.08" y="178" width="2.8" height="17.6" rx="0.8" fill="#888" stroke="#111" stroke-width="1.0"/>
<rect x="452.37" y="178" width="2.8" height="17.6" rx="0.8" fill="#888" stroke="#111" stroke-width="1.0"/>
<rect x="459.66" y="178" width="2.8" height="17.6" rx="0.8" fill="#888" stroke="#111" stroke-width="1.0"/>
<rect x="466.95" y="178" width="2.8" height="17.6" rx="0.8" fill="#888" stroke="#111" stroke-width="1.0"/>
<rect x="474.24" y="178" width="2.8" height="17.6" rx="0.8" fill="#888" stroke="#111" stroke-width="1.0"/>
<rect x="481.53" y="178" width="2.8" height="17.6" rx="0.8" fill="#888" stroke="#111" stroke-width="1.0"/>
<rect x="488.82" y="178" width="2.8" height="17.6" rx="0.8" fill="#888" stroke="#111" stroke-width="1.0"/>
<rect x="496.11" y="178" width="2.8" height="17.6" rx="0.8" fill="#888" stroke="#111" stroke-width="1.0"/>
<rect x="510.50" y="178" width="2.8" height="17.6" rx="0.8" fill="#888" stroke="#111" stroke-width="1.0"/>
<rect x="517.79" y="178" width="2.8" height="17.6" rx="0.8" fill="#888" stroke="#111" stroke-width="1.0"/>
<rect x="525.08" y="178" width="2.8" height="17.6" rx="0.8" fill="#888" stroke="#111" stroke-width="1.0"/>
<rect x="532.37" y="178" width="2.8" height="17.6" rx="0.8" fill="#888" stroke="#111" stroke-width="1.0"/>
<rect x="539.66" y="178" width="2.8" height="17.6" rx="0.8" fill="#888" stroke="#111" stroke-width="1.0"/>
<rect x="546.95" y="178" width="2.8" height="17.6" rx="0.8" fill="#888" stroke="#111" stroke-width="1.0"/>
<rect x="554.24" y="178" width="2.8" height="17.6" rx="0.8" fill="#888" stroke="#111" stroke-width="1.0"/>
<rect x="561.53" y="178" width="2.8" height="17.6" rx="0.8" fill="#888" stroke="#111" stroke-width="1.0"/>
<line x1="179.20" y1="182.80" x2="190.20" y2="182.80" stroke="#111" stroke-width="1.3" />
<line x1="259.20" y1="182.80" x2="270.20" y2="182.80" stroke="#111" stroke-width="1.3" />
<line x1="339.20" y1="182.80" x2="350.20" y2="182.80" stroke="#111" stroke-width="1.3" />
<line x1="419.20" y1="182.80" x2="430.20" y2="182.80" stroke="#111" stroke-width="1.3" />
<line x1="499.20" y1="182.80" x2="510.20" y2="182.80" stroke="#111" stroke-width="1.3" />
<path d="M103.10,178 V190.3 L103.80,199 H109.80 L110.50,190.3 V178" stroke="#111" stroke-width="1.2" fill="#fff"/>
<line x1="102.90" y1="190.30" x2="110.70" y2="190.30" stroke="#111" stroke-width="1.1" />
<path d="M113.70,178 V190.3 L114.40,199 H120.40 L121.10,190.3 V178" stroke="#111" stroke-width="1.2" fill="#fff"/>
<line x1="113.50" y1="190.30" x2="121.30" y2="190.30" stroke="#111" stroke-width="1.1" />
<rect x="95.50" y="177" width="6.3" height="18.6" fill="#666" stroke="#111" stroke-width="1"/>
<line x1="97.30" y1="177" x2="97.30" y2="195.5" stroke="#111" stroke-width="0.9"/>
<line x1="99.80" y1="177" x2="99.80" y2="195.5" stroke="#111" stroke-width="0.9"/>
<path d="M578.70,178 V190.3 L579.40,199 H585.40 L586.10,190.3 V178" stroke="#111" stroke-width="1.2" fill="#fff"/>
<line x1="578.50" y1="190.30" x2="586.30" y2="190.30" stroke="#111" stroke-width="1.1" />
<path d="M568.10,178 V190.3 L568.80,199 H574.80 L575.50,190.3 V178" stroke="#111" stroke-width="1.2" fill="#fff"/>
<line x1="567.90" y1="190.30" x2="575.70" y2="190.30" stroke="#111" stroke-width="1.1" />
<rect x="587.40" y="177" width="6.3" height="18.6" fill="#666" stroke="#111" stroke-width="1"/>
<line x1="591.90" y1="177" x2="591.90" y2="195.5" stroke="#111" stroke-width="0.9"/>
<line x1="589.40" y1="177" x2="589.40" y2="195.5" stroke="#111" stroke-width="0.9"/>
<g font-family="Liberation Serif" font-size="18.4" fill="#3a3a3a"><text transform="translate(258.43,229.6) scale(0.92,1)" x="0" y="0" text-anchor="middle">F</text><text transform="translate(267.28,229.6) scale(1.3,1)" x="0" y="0" text-anchor="middle">r</text><text transform="translate(276.12,229.6) scale(1.0,1)" x="0" y="0" text-anchor="middle">o</text><text transform="translate(284.98,229.6) scale(1.0,1)" x="0" y="0" text-anchor="middle">n</text><text transform="translate(293.82,229.6) scale(1.45,1)" x="0" y="0" text-anchor="middle">t</text><text transform="translate(311.52,229.6) scale(1.0,1)" x="0" y="0" text-anchor="middle">S</text><text transform="translate(320.38,229.6) scale(1.1,1)" x="0" y="0" text-anchor="middle">i</text><text transform="translate(329.23,229.6) scale(1.0,1)" x="0" y="0" text-anchor="middle">d</text><text transform="translate(338.07,229.6) scale(1.0,1)" x="0" y="0" text-anchor="middle">e</text><text transform="translate(355.77,229.6) scale(0.88,1)" x="0" y="0" text-anchor="middle">V</text><text transform="translate(364.62,229.6) scale(1.1,1)" x="0" y="0" text-anchor="middle">i</text><text transform="translate(373.48,229.6) scale(1.0,1)" x="0" y="0" text-anchor="middle">e</text><text transform="translate(382.32,229.6) scale(0.8,1)" x="0" y="0" text-anchor="middle">w</text></g>
<line x1="95.40" y1="301.50" x2="95.40" y2="340.00" stroke="#111" stroke-width="1.0" />
<line x1="594.00" y1="301.00" x2="594.00" y2="340.00" stroke="#111" stroke-width="1.0" />
<line x1="100.00" y1="307.20" x2="325.80" y2="307.20" stroke="#111" stroke-width="1.0" />
<line x1="414.50" y1="307.20" x2="590.00" y2="307.20" stroke="#111" stroke-width="1.0" />
<path d="M97.60,307.10 L104.80,305.50 L106.80,307.10 L104.80,308.70 Z" fill="#111" stroke="#111" stroke-width="0.3"/>
<path d="M592.30,307.10 L585.10,308.70 L583.10,307.10 L585.10,305.50 Z" fill="#111" stroke="#111" stroke-width="0.3"/>
<text x="329.6" y="312.6" font-family="Liberation Sans" font-size="15.6" fill="#1a1a1a" stroke="#1a1a1a" stroke-width="0.3" textLength="80.6" lengthAdjust="spacingAndGlyphs">87.12±0.15</text>
<line x1="50.80" y1="344.20" x2="92.00" y2="344.20" stroke="#111" stroke-width="1.1" />
<line x1="50.00" y1="504.40" x2="91.50" y2="504.40" stroke="#111" stroke-width="1.1" />
<line x1="55.90" y1="350.00" x2="55.90" y2="413.00" stroke="#111" stroke-width="1.0" />
<line x1="55.90" y1="436.00" x2="55.90" y2="498.00" stroke="#111" stroke-width="1.0" />
<path d="M55.90,346.30 L57.50,353.50 L55.90,355.50 L54.30,353.50 Z" fill="#111" stroke="#111" stroke-width="0.3"/>
<path d="M55.90,502.40 L54.30,495.20 L55.90,493.20 L57.50,495.20 Z" fill="#111" stroke="#111" stroke-width="0.3"/>
<text x="21.0" y="430.6" font-family="Liberation Sans" font-size="15.6" fill="#1a1a1a" stroke="#1a1a1a" stroke-width="0.3" textLength="71.0" lengthAdjust="spacingAndGlyphs">28.5±0.15</text>
<line x1="93.00" y1="344.30" x2="595.00" y2="344.30" stroke="#111" stroke-width="1.8" />
<line x1="132.30" y1="345.9" x2="157.10" y2="345.9" stroke="#111" stroke-width="3.4" stroke-linecap="round"/>
<line x1="212.30" y1="345.9" x2="237.10" y2="345.9" stroke="#111" stroke-width="3.4" stroke-linecap="round"/>
<line x1="292.30" y1="345.9" x2="317.10" y2="345.9" stroke="#111" stroke-width="3.4" stroke-linecap="round"/>
<line x1="372.30" y1="345.9" x2="397.10" y2="345.9" stroke="#111" stroke-width="3.4" stroke-linecap="round"/>
<line x1="452.30" y1="345.9" x2="477.10" y2="345.9" stroke="#111" stroke-width="3.4" stroke-linecap="round"/>
<line x1="532.30" y1="345.9" x2="557.10" y2="345.9" stroke="#111" stroke-width="3.4" stroke-linecap="round"/>
<path d="M176.40,345 V374.2 Q178.20,376.8 180.00,374.2 V345" stroke="#111" stroke-width="1.4" fill="#fff"/>
<rect x="175.70" y="344.30" width="5.00" height="2.20" fill="#111" stroke="none" stroke-width="0" />
<path d="M189.40,345 V374.2 Q191.20,376.8 193.00,374.2 V345" stroke="#111" stroke-width="1.4" fill="#fff"/>
<rect x="188.70" y="344.30" width="5.00" height="2.20" fill="#111" stroke="none" stroke-width="0" />
<line x1="180.00" y1="358.40" x2="189.40" y2="358.40" stroke="#111" stroke-width="1.1" />
<path d="M256.40,345 V374.2 Q258.20,376.8 260.00,374.2 V345" stroke="#111" stroke-width="1.4" fill="#fff"/>
<rect x="255.70" y="344.30" width="5.00" height="2.20" fill="#111" stroke="none" stroke-width="0" />
<path d="M269.40,345 V374.2 Q271.20,376.8 273.00,374.2 V345" stroke="#111" stroke-width="1.4" fill="#fff"/>
<rect x="268.70" y="344.30" width="5.00" height="2.20" fill="#111" stroke="none" stroke-width="0" />
<line x1="260.00" y1="358.40" x2="269.40" y2="358.40" stroke="#111" stroke-width="1.1" />
<path d="M336.40,345 V374.2 Q338.20,376.8 340.00,374.2 V345" stroke="#111" stroke-width="1.4" fill="#fff"/>
<rect x="335.70" y="344.30" width="5.00" height="2.20" fill="#111" stroke="none" stroke-width="0" />
<path d="M349.40,345 V374.2 Q351.20,376.8 353.00,374.2 V345" stroke="#111" stroke-width="1.4" fill="#fff"/>
<rect x="348.70" y="344.30" width="5.00" height="2.20" fill="#111" stroke="none" stroke-width="0" />
<line x1="340.00" y1="358.40" x2="349.40" y2="358.40" stroke="#111" stroke-width="1.1" />
<path d="M416.40,345 V374.2 Q418.20,376.8 420.00,374.2 V345" stroke="#111" stroke-width="1.4" fill="#fff"/>
<rect x="415.70" y="344.30" width="5.00" height="2.20" fill="#111" stroke="none" stroke-width="0" />
<path d="M429.40,345 V374.2 Q431.20,376.8 433.00,374.2 V345" stroke="#111" stroke-width="1.4" fill="#fff"/>
<rect x="428.70" y="344.30" width="5.00" height="2.20" fill="#111" stroke="none" stroke-width="0" />
<line x1="420.00" y1="358.40" x2="429.40" y2="358.40" stroke="#111" stroke-width="1.1" />
<path d="M496.40,345 V374.2 Q498.20,376.8 500.00,374.2 V345" stroke="#111" stroke-width="1.4" fill="#fff"/>
<rect x="495.70" y="344.30" width="5.00" height="2.20" fill="#111" stroke="none" stroke-width="0" />
<path d="M509.40,345 V374.2 Q511.20,376.8 513.00,374.2 V345" stroke="#111" stroke-width="1.4" fill="#fff"/>
<rect x="508.70" y="344.30" width="5.00" height="2.20" fill="#111" stroke="none" stroke-width="0" />
<line x1="500.00" y1="358.40" x2="509.40" y2="358.40" stroke="#111" stroke-width="1.1" />
<path d="M100.7,362.7 L111.5,369 H119.3 L140.4,384.8 H548.8 L569.9,369 H577.7 L588.5,362.7" stroke="#111" stroke-width="1.3" fill="none" />
<line x1="96.00" y1="344.00" x2="96.00" y2="503.50" stroke="#111" stroke-width="1.6" />
<line x1="99.80" y1="346.00" x2="99.80" y2="388.00" stroke="#111" stroke-width="1.6" />
<line x1="102.00" y1="386.00" x2="102.00" y2="503.50" stroke="#111" stroke-width="1.6" />
<path d="M96.5,370 L99.5,373 L97,378 L99.5,383 L97,388" stroke="#111" stroke-width="2.6" fill="none"/>
<path d="M95.5,347 H92 Q90.6,347 90.6,349 V353.5 Q90.6,355.6 92.5,355.6 H95.5" stroke="#111" stroke-width="1.4" fill="none"/>
<circle cx="111.5" cy="404.5" r="9.1" stroke="#111" stroke-width="2" fill="none"/>
<rect x="109.3" y="388" width="5.2" height="54" fill="#fff" stroke="#111" stroke-width="1.3"/>
<line x1="96.50" y1="446.00" x2="101.50" y2="446.00" stroke="#111" stroke-width="1.2" />
<line x1="96.50" y1="463.70" x2="101.50" y2="463.70" stroke="#111" stroke-width="1.2" />
<line x1="96.50" y1="477.50" x2="101.50" y2="477.50" stroke="#111" stroke-width="1.2" />
<rect x="96.50" y="432.00" width="5.00" height="12.30" fill="#333" stroke="none" stroke-width="0" />
<path d="M95.5,465 Q93.6,471 95.5,477" stroke="#111" stroke-width="1" fill="none"/>
<line x1="594.60" y1="344.00" x2="594.60" y2="503.50" stroke="#111" stroke-width="1.8" />
<line x1="591.20" y1="346.00" x2="591.20" y2="370.00" stroke="#111" stroke-width="1.6" />
<line x1="588.30" y1="381.00" x2="588.30" y2="503.50" stroke="#111" stroke-width="1.6" />
<line x1="590.30" y1="370.00" x2="590.30" y2="388.00" stroke="#111" stroke-width="1.2" />
<path d="M592.5,370 L590,374 L593,379 L590.5,384 L593,389" stroke="#111" stroke-width="2.6" fill="none"/>
<path d="M595.5,346.8 H598 Q600.3,347 600.3,350 V353.5 Q600.3,357 597.5,357 H595.5" stroke="#111" stroke-width="1.5" fill="none"/>
<path d="M590.5,344.3 Q593.5,344.3 594.6,346.5" stroke="#111" stroke-width="1.8" fill="none"/>
<circle cx="577.8" cy="404.3" r="9.1" stroke="#111" stroke-width="2" fill="none"/>
<rect x="575.8" y="387.8" width="4.9" height="53.8" fill="#fff" stroke="#111" stroke-width="1.3"/>
<line x1="589.00" y1="432.60" x2="594.00" y2="432.60" stroke="#111" stroke-width="1.2" />
<line x1="589.00" y1="452.80" x2="594.00" y2="452.80" stroke="#111" stroke-width="1.2" />
<line x1="589.00" y1="464.60" x2="594.00" y2="464.60" stroke="#111" stroke-width="1.2" />
<line x1="589.00" y1="486.00" x2="594.00" y2="486.00" stroke="#111" stroke-width="1.2" />
<rect x="589.00" y="424.40" width="5.00" height="7.20" fill="#555" stroke="none" stroke-width="0" />
<rect x="589.00" y="453.20" width="5.00" height="11.00" fill="#555" stroke="none" stroke-width="0" />
<rect x="113.20" y="434.2" width="63.4" height="69.2" fill="none" stroke="#111" stroke-width="2"/>
<line x1="113.20" y1="465.40" x2="176.60" y2="465.40" stroke="#111" stroke-width="2.4" />
<path d="M119.80,466 L124.50,473.4 H143.40 V466" stroke="#111" stroke-width="1.4" fill="none"/>
<path d="M147.00,466 V473.4 H165.30 L170.00,466" stroke="#111" stroke-width="1.4" fill="none"/>
<rect x="117.70" y="439.50" width="4.00" height="3.40" fill="#111" stroke="none" stroke-width="0" rx="1"/>
<rect x="132.50" y="439.50" width="4.00" height="3.40" fill="#111" stroke="none" stroke-width="0" rx="1"/>
<rect x="147.20" y="439.50" width="4.00" height="3.40" fill="#111" stroke="none" stroke-width="0" rx="1"/>
<rect x="162.00" y="439.50" width="4.00" height="3.40" fill="#111" stroke="none" stroke-width="0" rx="1"/>
<rect x="125.00" y="453.80" width="4.00" height="3.40" fill="#111" stroke="none" stroke-width="0" rx="1"/>
<rect x="139.80" y="453.80" width="4.00" height="3.40" fill="#111" stroke="none" stroke-width="0" rx="1"/>
<rect x="154.50" y="453.80" width="4.00" height="3.40" fill="#111" stroke="none" stroke-width="0" rx="1"/>
<rect x="168.50" y="453.80" width="4.00" height="3.40" fill="#111" stroke="none" stroke-width="0" rx="1"/>
<rect x="117.70" y="477.00" width="4.00" height="3.40" fill="#111" stroke="none" stroke-width="0" rx="1"/>
<rect x="132.50" y="477.00" width="4.00" height="3.40" fill="#111" stroke="none" stroke-width="0" rx="1"/>
<rect x="147.20" y="477.00" width="4.00" height="3.40" fill="#111" stroke="none" stroke-width="0" rx="1"/>
<rect x="162.00" y="477.00" width="4.00" height="3.40" fill="#111" stroke="none" stroke-width="0" rx="1"/>
<rect x="125.00" y="491.80" width="4.00" height="3.40" fill="#111" stroke="none" stroke-width="0" rx="1"/>
<rect x="139.80" y="491.80" width="4.00" height="3.40" fill="#111" stroke="none" stroke-width="0" rx="1"/>
<rect x="154.50" y="491.80" width="4.00" height="3.40" fill="#111" stroke="none" stroke-width="0" rx="1"/>
<rect x="168.50" y="491.80" width="4.00" height="3.40" fill="#111" stroke="none" stroke-width="0" rx="1"/>
<rect x="193.27" y="434.2" width="63.4" height="69.2" fill="none" stroke="#111" stroke-width="2"/>
<line x1="193.27" y1="465.40" x2="256.67" y2="465.40" stroke="#111" stroke-width="2.4" />
<path d="M199.87,466 L204.57,473.4 H223.47 V466" stroke="#111" stroke-width="1.4" fill="none"/>
<path d="M227.07,466 V473.4 H245.37 L250.07,466" stroke="#111" stroke-width="1.4" fill="none"/>
<rect x="197.77" y="439.50" width="4.00" height="3.40" fill="#111" stroke="none" stroke-width="0" rx="1"/>
<rect x="212.57" y="439.50" width="4.00" height="3.40" fill="#111" stroke="none" stroke-width="0" rx="1"/>
<rect x="227.27" y="439.50" width="4.00" height="3.40" fill="#111" stroke="none" stroke-width="0" rx="1"/>
<rect x="242.07" y="439.50" width="4.00" height="3.40" fill="#111" stroke="none" stroke-width="0" rx="1"/>
<rect x="205.07" y="453.80" width="4.00" height="3.40" fill="#111" stroke="none" stroke-width="0" rx="1"/>
<rect x="219.87" y="453.80" width="4.00" height="3.40" fill="#111" stroke="none" stroke-width="0" rx="1"/>
<rect x="234.57" y="453.80" width="4.00" height="3.40" fill="#111" stroke="none" stroke-width="0" rx="1"/>
<rect x="248.57" y="453.80" width="4.00" height="3.40" fill="#111" stroke="none" stroke-width="0" rx="1"/>
<rect x="197.77" y="477.00" width="4.00" height="3.40" fill="#111" stroke="none" stroke-width="0" rx="1"/>
<rect x="212.57" y="477.00" width="4.00" height="3.40" fill="#111" stroke="none" stroke-width="0" rx="1"/>
<rect x="227.27" y="477.00" width="4.00" height="3.40" fill="#111" stroke="none" stroke-width="0" rx="1"/>
<rect x="242.07" y="477.00" width="4.00" height="3.40" fill="#111" stroke="none" stroke-width="0" rx="1"/>
<rect x="205.07" y="491.80" width="4.00" height="3.40" fill="#111" stroke="none" stroke-width="0" rx="1"/>
<rect x="219.87" y="491.80" width="4.00" height="3.40" fill="#111" stroke="none" stroke-width="0" rx="1"/>
<rect x="234.57" y="491.80" width="4.00" height="3.40" fill="#111" stroke="none" stroke-width="0" rx="1"/>
<rect x="248.57" y="491.80" width="4.00" height="3.40" fill="#111" stroke="none" stroke-width="0" rx="1"/>
<rect x="273.34" y="434.2" width="63.4" height="69.2" fill="none" stroke="#111" stroke-width="2"/>
<line x1="273.34" y1="465.40" x2="336.74" y2="465.40" stroke="#111" stroke-width="2.4" />
<path d="M279.94,466 L284.64,473.4 H303.54 V466" stroke="#111" stroke-width="1.4" fill="none"/>
<path d="M307.14,466 V473.4 H325.44 L330.14,466" stroke="#111" stroke-width="1.4" fill="none"/>
<rect x="277.84" y="439.50" width="4.00" height="3.40" fill="#111" stroke="none" stroke-width="0" rx="1"/>
<rect x="292.64" y="439.50" width="4.00" height="3.40" fill="#111" stroke="none" stroke-width="0" rx="1"/>
<rect x="307.34" y="439.50" width="4.00" height="3.40" fill="#111" stroke="none" stroke-width="0" rx="1"/>
<rect x="322.14" y="439.50" width="4.00" height="3.40" fill="#111" stroke="none" stroke-width="0" rx="1"/>
<rect x="285.14" y="453.80" width="4.00" height="3.40" fill="#111" stroke="none" stroke-width="0" rx="1"/>
<rect x="299.94" y="453.80" width="4.00" height="3.40" fill="#111" stroke="none" stroke-width="0" rx="1"/>
<rect x="314.64" y="453.80" width="4.00" height="3.40" fill="#111" stroke="none" stroke-width="0" rx="1"/>
<rect x="328.64" y="453.80" width="4.00" height="3.40" fill="#111" stroke="none" stroke-width="0" rx="1"/>
<rect x="277.84" y="477.00" width="4.00" height="3.40" fill="#111" stroke="none" stroke-width="0" rx="1"/>
<rect x="292.64" y="477.00" width="4.00" height="3.40" fill="#111" stroke="none" stroke-width="0" rx="1"/>
<rect x="307.34" y="477.00" width="4.00" height="3.40" fill="#111" stroke="none" stroke-width="0" rx="1"/>
<rect x="322.14" y="477.00" width="4.00" height="3.40" fill="#111" stroke="none" stroke-width="0" rx="1"/>
<rect x="285.14" y="491.80" width="4.00" height="3.40" fill="#111" stroke="none" stroke-width="0" rx="1"/>
<rect x="299.94" y="491.80" width="4.00" height="3.40" fill="#111" stroke="none" stroke-width="0" rx="1"/>
<rect x="314.64" y="491.80" width="4.00" height="3.40" fill="#111" stroke="none" stroke-width="0" rx="1"/>
<rect x="328.64" y="491.80" width="4.00" height="3.40" fill="#111" stroke="none" stroke-width="0" rx="1"/>
<rect x="353.41" y="434.2" width="63.4" height="69.2" fill="none" stroke="#111" stroke-width="2"/>
<line x1="353.41" y1="465.40" x2="416.81" y2="465.40" stroke="#111" stroke-width="2.4" />
<path d="M360.01,466 L364.71,473.4 H383.61 V466" stroke="#111" stroke-width="1.4" fill="none"/>
<path d="M387.21,466 V473.4 H405.51 L410.21,466" stroke="#111" stroke-width="1.4" fill="none"/>
<rect x="357.91" y="439.50" width="4.00" height="3.40" fill="#111" stroke="none" stroke-width="0" rx="1"/>
<rect x="372.71" y="439.50" width="4.00" height="3.40" fill="#111" stroke="none" stroke-width="0" rx="1"/>
<rect x="387.41" y="439.50" width="4.00" height="3.40" fill="#111" stroke="none" stroke-width="0" rx="1"/>
<rect x="402.21" y="439.50" width="4.00" height="3.40" fill="#111" stroke="none" stroke-width="0" rx="1"/>
<rect x="365.21" y="453.80" width="4.00" height="3.40" fill="#111" stroke="none" stroke-width="0" rx="1"/>
<rect x="380.01" y="453.80" width="4.00" height="3.40" fill="#111" stroke="none" stroke-width="0" rx="1"/>
<rect x="394.71" y="453.80" width="4.00" height="3.40" fill="#111" stroke="none" stroke-width="0" rx="1"/>
<rect x="408.71" y="453.80" width="4.00" height="3.40" fill="#111" stroke="none" stroke-width="0" rx="1"/>
<rect x="357.91" y="477.00" width="4.00" height="3.40" fill="#111" stroke="none" stroke-width="0" rx="1"/>
<rect x="372.71" y="477.00" width="4.00" height="3.40" fill="#111" stroke="none" stroke-width="0" rx="1"/>
<rect x="387.41" y="477.00" width="4.00" height="3.40" fill="#111" stroke="none" stroke-width="0" rx="1"/>
<rect x="402.21" y="477.00" width="4.00" height="3.40" fill="#111" stroke="none" stroke-width="0" rx="1"/>
<rect x="365.21" y="491.80" width="4.00" height="3.40" fill="#111" stroke="none" stroke-width="0" rx="1"/>
<rect x="380.01" y="491.80" width="4.00" height="3.40" fill="#111" stroke="none" stroke-width="0" rx="1"/>
<rect x="394.71" y="491.80" width="4.00" height="3.40" fill="#111" stroke="none" stroke-width="0" rx="1"/>
<rect x="408.71" y="491.80" width="4.00" height="3.40" fill="#111" stroke="none" stroke-width="0" rx="1"/>
<rect x="433.48" y="434.2" width="63.4" height="69.2" fill="none" stroke="#111" stroke-width="2"/>
<line x1="433.48" y1="465.40" x2="496.88" y2="465.40" stroke="#111" stroke-width="2.4" />
<path d="M440.08,466 L444.78,473.4 H463.68 V466" stroke="#111" stroke-width="1.4" fill="none"/>
<path d="M467.28,466 V473.4 H485.58 L490.28,466" stroke="#111" stroke-width="1.4" fill="none"/>
<rect x="437.98" y="439.50" width="4.00" height="3.40" fill="#111" stroke="none" stroke-width="0" rx="1"/>
<rect x="452.78" y="439.50" width="4.00" height="3.40" fill="#111" stroke="none" stroke-width="0" rx="1"/>
<rect x="467.48" y="439.50" width="4.00" height="3.40" fill="#111" stroke="none" stroke-width="0" rx="1"/>
<rect x="482.28" y="439.50" width="4.00" height="3.40" fill="#111" stroke="none" stroke-width="0" rx="1"/>
<rect x="445.28" y="453.80" width="4.00" height="3.40" fill="#111" stroke="none" stroke-width="0" rx="1"/>
<rect x="460.08" y="453.80" width="4.00" height="3.40" fill="#111" stroke="none" stroke-width="0" rx="1"/>
<rect x="474.78" y="453.80" width="4.00" height="3.40" fill="#111" stroke="none" stroke-width="0" rx="1"/>
<rect x="488.78" y="453.80" width="4.00" height="3.40" fill="#111" stroke="none" stroke-width="0" rx="1"/>
<rect x="437.98" y="477.00" width="4.00" height="3.40" fill="#111" stroke="none" stroke-width="0" rx="1"/>
<rect x="452.78" y="477.00" width="4.00" height="3.40" fill="#111" stroke="none" stroke-width="0" rx="1"/>
<rect x="467.48" y="477.00" width="4.00" height="3.40" fill="#111" stroke="none" stroke-width="0" rx="1"/>
<rect x="482.28" y="477.00" width="4.00" height="3.40" fill="#111" stroke="none" stroke-width="0" rx="1"/>
<rect x="445.28" y="491.80" width="4.00" height="3.40" fill="#111" stroke="none" stroke-width="0" rx="1"/>
<rect x="460.08" y="491.80" width="4.00" height="3.40" fill="#111" stroke="none" stroke-width="0" rx="1"/>
<rect x="474.78" y="491.80" width="4.00" height="3.40" fill="#111" stroke="none" stroke-width="0" rx="1"/>
<rect x="488.78" y="491.80" width="4.00" height="3.40" fill="#111" stroke="none" stroke-width="0" rx="1"/>
<rect x="513.55" y="434.2" width="63.4" height="69.2" fill="none" stroke="#111" stroke-width="2"/>
<line x1="513.55" y1="465.40" x2="576.95" y2="465.40" stroke="#111" stroke-width="2.4" />
<path d="M520.15,466 L524.85,473.4 H543.75 V466" stroke="#111" stroke-width="1.4" fill="none"/>
<path d="M547.35,466 V473.4 H565.65 L570.35,466" stroke="#111" stroke-width="1.4" fill="none"/>
<rect x="518.05" y="439.50" width="4.00" height="3.40" fill="#111" stroke="none" stroke-width="0" rx="1"/>
<rect x="532.85" y="439.50" width="4.00" height="3.40" fill="#111" stroke="none" stroke-width="0" rx="1"/>
<rect x="547.55" y="439.50" width="4.00" height="3.40" fill="#111" stroke="none" stroke-width="0" rx="1"/>
<rect x="562.35" y="439.50" width="4.00" height="3.40" fill="#111" stroke="none" stroke-width="0" rx="1"/>
<rect x="525.35" y="453.80" width="4.00" height="3.40" fill="#111" stroke="none" stroke-width="0" rx="1"/>
<rect x="540.15" y="453.80" width="4.00" height="3.40" fill="#111" stroke="none" stroke-width="0" rx="1"/>
<rect x="554.85" y="453.80" width="4.00" height="3.40" fill="#111" stroke="none" stroke-width="0" rx="1"/>
<rect x="568.85" y="453.80" width="4.00" height="3.40" fill="#111" stroke="none" stroke-width="0" rx="1"/>
<rect x="518.05" y="477.00" width="4.00" height="3.40" fill="#111" stroke="none" stroke-width="0" rx="1"/>
<rect x="532.85" y="477.00" width="4.00" height="3.40" fill="#111" stroke="none" stroke-width="0" rx="1"/>
<rect x="547.55" y="477.00" width="4.00" height="3.40" fill="#111" stroke="none" stroke-width="0" rx="1"/>
<rect x="562.35" y="477.00" width="4.00" height="3.40" fill="#111" stroke="none" stroke-width="0" rx="1"/>
<rect x="525.35" y="491.80" width="4.00" height="3.40" fill="#111" stroke="none" stroke-width="0" rx="1"/>
<rect x="540.15" y="491.80" width="4.00" height="3.40" fill="#111" stroke="none" stroke-width="0" rx="1"/>
<rect x="554.85" y="491.80" width="4.00" height="3.40" fill="#111" stroke="none" stroke-width="0" rx="1"/>
<rect x="568.85" y="491.80" width="4.00" height="3.40" fill="#111" stroke="none" stroke-width="0" rx="1"/>
<line x1="336.60" y1="434.20" x2="353.40" y2="434.20" stroke="#111" stroke-width="2" />
<line x1="95.00" y1="503.50" x2="594.50" y2="503.50" stroke="#111" stroke-width="2" />
<g font-family="Liberation Serif" font-size="18.4" fill="#3a3a3a"><text transform="translate(256.82,538.6) scale(0.8,1)" x="0" y="0" text-anchor="middle">B</text><text transform="translate(265.68,538.6) scale(1.0,1)" x="0" y="0" text-anchor="middle">o</text><text transform="translate(274.52,538.6) scale(1.45,1)" x="0" y="0" text-anchor="middle">t</text><text transform="translate(283.38,538.6) scale(1.45,1)" x="0" y="0" text-anchor="middle">t</text><text transform="translate(292.22,538.6) scale(1.0,1)" x="0" y="0" text-anchor="middle">o</text><text transform="translate(301.07,538.6) scale(0.8,1)" x="0" y="0" text-anchor="middle">w</text><text transform="translate(318.77,538.6) scale(1.0,1)" x="0" y="0" text-anchor="middle">S</text><text transform="translate(327.62,538.6) scale(1.1,1)" x="0" y="0" text-anchor="middle">i</text><text transform="translate(336.47,538.6) scale(1.0,1)" x="0" y="0" text-anchor="middle">d</text><text transform="translate(345.32,538.6) scale(1.0,1)" x="0" y="0" text-anchor="middle">e</text><text transform="translate(363.02,538.6) scale(0.88,1)" x="0" y="0" text-anchor="middle">V</text><text transform="translate(371.88,538.6) scale(1.1,1)" x="0" y="0" text-anchor="middle">i</text><text transform="translate(380.72,538.6) scale(1.0,1)" x="0" y="0" text-anchor="middle">e</text><text transform="translate(389.57,538.6) scale(0.8,1)" x="0" y="0" text-anchor="middle">w</text></g></svg>
</body></html>
